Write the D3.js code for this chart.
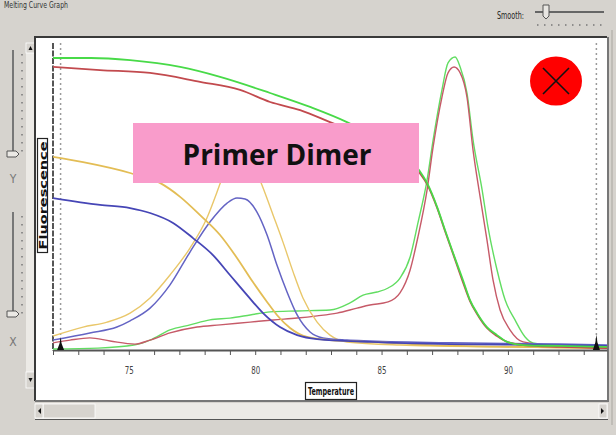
<!DOCTYPE html>
<html>
<head>
<meta charset="utf-8">
<script src="https://cdn.jsdelivr.net/npm/d3@7"></script>
<style>
  html, body { margin: 0; padding: 0; background: #d6d3ce; overflow: hidden; }
  svg { display: block; }
</style>
</head>
<body>
<svg id="chart" width="616" height="435"></svg>
<script>
// temperature (deg C) vs fluorescence (0..100, arbitrary)
const labelTicks = [75, 80, 85, 90];

const greenMelt = [[72.0, 94.2], [73.5, 94.2], [75.05, 93.5], [77.03, 91.3], [78.61, 88.1], [80.59, 82.9],
    [82.17, 78.4], [83.63, 73.5], [85.1, 67.0], [86.48, 58.1], [86.8, 53.9], [87.2, 46.1], [87.51, 38.7],
    [87.83, 31.3], [88.22, 22.6], [88.5, 16.1], [88.78, 11.9], [89.17, 7.4], [89.57, 4.8], [89.97, 2.6],
    [90.6, 1.6], [92.06, 1.3], [93.92, 1.0]];

const redMelt = [[72.0, 91.3], [73.86, 90.3], [75.84, 89.4], [77.82, 86.5], [79.4, 83.9], [80.59, 80.0],
    [81.78, 77.4], [82.96, 73.5], [85.1, 66.1], [86.48, 57.4], [86.8, 53.5], [87.2, 45.8], [87.51, 38.4],
    [87.83, 31.0], [88.22, 21.9], [88.5, 15.8], [88.78, 11.6], [89.17, 7.1], [89.57, 4.5], [89.97, 2.6],
    [90.6, 1.6], [92.06, 1.0], [93.92, 0.6]];

const yellowMelt = [[72.0, 62.3], [73.19, 60.6], [75.05, 57.1], [76.23, 53.9], [77.03, 49.4], [77.82, 43.5],
    [78.61, 37.1], [79.28, 29.7], [79.91, 21.9], [80.47, 15.5], [80.86, 11.3], [81.38, 7.1], [82.05, 4.2],
    [82.96, 3.2], [84.54, 2.6], [86.92, 1.6], [90.48, 1.0], [93.92, 0.6]];

const blueMelt = [[72.0, 49.0], [73.86, 46.8], [75.05, 45.8], [75.84, 44.2], [76.75, 41.0], [77.54, 36.1],
    [78.33, 30.6], [79.0, 24.2], [79.68, 17.7], [80.31, 11.9], [80.98, 7.4], [81.66, 4.8], [82.45, 3.5],
    [84.54, 2.6], [87.71, 1.9], [92.06, 1.6], [93.92, 1.3]];

const yellowPeak = [[72.0, 4.5], [73.19, 7.4], [74.14, 9.0], [75.05, 11.9], [75.84, 16.8], [76.63, 24.2],
    [77.42, 32.9], [78.09, 42.6], [78.49, 51.0], [78.69, 55.5], [78.93, 61.3], [79.16, 65.8], [79.4, 67.4],
    [79.64, 65.8], [79.88, 61.3], [80.11, 56.5], [80.31, 52.3], [80.71, 43.5], [81.1, 34.8], [81.5, 25.2],
    [81.89, 16.8], [82.45, 9.0], [82.96, 4.8], [83.63, 2.6], [85.73, 1.6], [89.69, 1.0], [93.92, 0.6]];

const bluePeak = [[72.0, 3.2], [73.46, 5.5], [74.53, 7.4], [75.05, 9.4], [75.84, 13.5], [76.63, 21.0],
    [77.42, 31.6], [78.21, 41.3], [78.89, 47.4], [79.28, 49.0], [79.6, 48.7], [80.07, 44.5], [80.47, 37.1],
    [80.86, 27.4], [81.26, 18.7], [81.66, 11.3], [82.17, 5.8], [82.68, 3.9], [83.63, 3.2], [84.54, 2.9],
    [87.71, 2.3], [92.06, 1.9], [93.92, 1.6]];

const greenPeak = [[72.0, 0.3], [73.78, 0.6], [75.2, 1.6], [75.84, 3.2], [76.63, 6.5], [77.42, 8.1],
    [78.21, 9.7], [79.0, 10.3], [79.8, 11.3], [80.59, 12.3], [81.66, 12.6], [82.96, 12.9], [83.75, 15.2],
    [84.27, 17.7], [84.82, 18.7], [85.26, 20.0], [85.73, 23.2], [86.13, 30.0], [86.44, 41.0], [86.8, 54.8],
    [87.04, 67.7], [87.39, 83.9], [87.63, 92.6], [87.91, 94.5], [88.11, 91.3], [88.38, 82.9], [88.62, 67.7],
    [88.98, 51.6], [89.21, 39.7], [89.57, 25.8], [89.89, 16.1], [90.28, 9.7], [90.68, 4.2], [90.99, 2.3],
    [92.06, 1.3], [93.92, 1.0]];

const redPeak = [[72.0, 2.3], [72.67, 3.2], [73.46, 3.9], [74.26, 2.9], [75.24, 1.9], [75.84, 3.2],
    [76.63, 5.5], [77.7, 7.4], [78.61, 8.1], [79.8, 9.0], [80.71, 9.7], [81.66, 10.3], [82.45, 11.0],
    [83.24, 11.9], [84.03, 13.5], [84.54, 14.5], [85.26, 15.5], [85.73, 18.4], [86.13, 25.8], [86.44, 36.5],
    [86.8, 51.6], [87.04, 65.5], [87.39, 81.6], [87.63, 89.4], [87.87, 91.3], [88.11, 89.4], [88.38, 81.6],
    [88.62, 64.5], [88.9, 49.4], [89.17, 35.5], [89.41, 22.6], [89.69, 12.9], [90.08, 6.5], [90.6, 2.6],
    [92.06, 1.3], [93.92, 0.6]];

const SERIES = [
    {data: greenPeak,  color: "#62dd62", width: 1.4},
    {data: redPeak,    color: "#c65a68", width: 1.4},
    {data: yellowPeak, color: "#e9c76a", width: 1.4},
    {data: bluePeak,   color: "#6464c4", width: 1.5},
    {data: yellowMelt, color: "#e3bd55", width: 1.8},
    {data: blueMelt,   color: "#4646b6", width: 1.8},
    {data: redMelt,    color: "#c24a4e", width: 1.8},
    {data: greenMelt,  color: "#48da48", width: 1.8},
]

const NARROW = "'Liberation Sans Narrow', 'DejaVu Sans Condensed', Arial, sans-serif";

const area = {
    left: 35, top: 37, right: 607, bottom: 401,
    axisX0: 53, axisX1: 607, axisY: 350, axisTop: 43
}

function drawFrame(svg) {
    svg.append("rect").attr("width", 616).attr("height", 435).attr("fill", "#d6d3ce");

    // group box title
    svg.append("text").attr("x", 4).attr("y", 8)
        .style("font-family", NARROW).style("font-size", "8px").attr("fill", "#333")
        .attr("textLength", 64).attr("lengthAdjust", "spacingAndGlyphs")
        .text("Melting Curve Graph");

    // smooth slider
    svg.append("text").attr("x", 497).attr("y", 19)
        .style("font-family", NARROW).style("font-size", "10px").attr("fill", "#222")
        .attr("textLength", 27).attr("lengthAdjust", "spacingAndGlyphs")
        .text("Smooth:");
    svg.append("line").attr("x1", 535).attr("x2", 604).attr("y1", 12).attr("y2", 12)
        .attr("stroke", "#666").attr("stroke-width", 2);
    svg.append("path").attr("d", "M543,5 L549,5 L549,16 L546,19 L543,16 Z")
        .attr("fill", "#e8e6e2").attr("stroke", "#555").attr("stroke-width", 1);
    svg.append("line").attr("x1", 537).attr("x2", 604).attr("y1", 25).attr("y2", 25)
        .attr("stroke", "#777").attr("stroke-width", 1.5).attr("stroke-dasharray", "1.5,5.5");

    // left sliders
    [[50, 155, "Y", 183], [212, 315, "X", 346]].forEach(s => {
        svg.append("line").attr("x1", 13).attr("x2", 13).attr("y1", s[0]).attr("y2", s[1])
            .attr("stroke", "#777").attr("stroke-width", 2);
        svg.append("line").attr("x1", 22).attr("x2", 22).attr("y1", s[0] + 4).attr("y2", s[1])
            .attr("stroke", "#777").attr("stroke-width", 1.5).attr("stroke-dasharray", "1.5,6.5");
        svg.append("path").attr("d", `M7,${s[1] - 4} L16,${s[1] - 4} L19,${s[1] - 1} L16,${s[1] + 2} L7,${s[1] + 2} Z`)
            .attr("fill", "#ebe9e5").attr("stroke", "#555").attr("stroke-width", 1);
        svg.append("text").attr("x", 13).attr("y", s[3]).attr("text-anchor", "middle")
            .style("font-family", NARROW).style("font-size", "12px").attr("fill", "#777")
            .text(s[2]);
    });

    // left vertical scrollbar
    svg.append("rect").attr("x", 26).attr("y", 43).attr("width", 9).attr("height", 345)
        .attr("fill", "#eceae6");
    svg.append("rect").attr("x", 26).attr("y", 43).attr("width", 9).attr("height", 10)
        .attr("fill", "#d6d3ce").attr("stroke", "#fff").attr("stroke-width", 0.8);
    svg.append("path").attr("d", "M28.5,50 L32.5,50 L30.5,46 Z").attr("fill", "#111");
    svg.append("rect").attr("x", 26).attr("y", 372).attr("width", 9).attr("height", 16)
        .attr("fill", "#d6d3ce").attr("stroke", "#fff").attr("stroke-width", 0.8);
    svg.append("path").attr("d", "M28.5,378 L32.5,378 L30.5,382 Z").attr("fill", "#111");

    // white plot area
    svg.append("rect").attr("x", area.left).attr("y", area.top)
        .attr("width", area.right - area.left).attr("height", area.bottom - area.top)
        .attr("fill", "#fff");
    svg.append("path")
        .attr("d", `M${area.left},${area.bottom} L${area.left},${area.top} L${area.right},${area.top}`)
        .attr("fill", "none").attr("stroke", "#3a3a3a").attr("stroke-width", 2);
    svg.append("path")
        .attr("d", `M${area.right + 1},${area.top} L${area.right + 1},${area.bottom} L${area.left},${area.bottom}`)
        .attr("fill", "none").attr("stroke", "#777").attr("stroke-width", 2);
    svg.append("line").attr("x1", area.right + 5).attr("x2", area.right + 5)
        .attr("y1", 30).attr("y2", 425).attr("stroke", "#a9a6a0").attr("stroke-width", 1);

    // bottom horizontal scrollbar
    svg.append("rect").attr("x", 35).attr("y", 403).attr("width", 573).attr("height", 16)
        .attr("fill", "#eceae6");
    svg.append("rect").attr("x", 43).attr("y", 404).attr("width", 52).attr("height", 14)
        .attr("fill", "#d6d3ce").attr("stroke", "#fff").attr("stroke-width", 0.8);
    svg.append("rect").attr("x", 35).attr("y", 404).attr("width", 8).attr("height", 14)
        .attr("fill", "#d6d3ce").attr("stroke", "#fff").attr("stroke-width", 0.8);
    svg.append("path").attr("d", "M41,408 L41,414 L38,411 Z").attr("fill", "#111");
    svg.append("rect").attr("x", 599).attr("y", 404).attr("width", 8).attr("height", 14)
        .attr("fill", "#d6d3ce").attr("stroke", "#fff").attr("stroke-width", 0.8);
    svg.append("path").attr("d", "M601,408 L601,414 L604,411 Z").attr("fill", "#111");
    svg.append("line").attr("x1", 35).attr("x2", 608).attr("y1", 419.5).attr("y2", 419.5)
        .attr("stroke", "#555").attr("stroke-width", 1);
}

function drawAxes(svg, scX, scY) {
    let axisX = d3.axisBottom(scX)
        .tickValues(d3.range(72, 94))
        .tickFormat(d => labelTicks.includes(d) ? d : "")
        .tickSize(5)
        .tickSizeOuter(0)
        .tickPadding(12);

    let g = svg.append("g")
        .attr("transform", `translate(0, ${area.axisY})`)
        .call(axisX);
    g.select(".domain").attr("stroke", "#555").attr("stroke-width", 2);
    g.selectAll(".tick line").attr("stroke", "#555").attr("stroke-width", 1);
    g.selectAll(".tick text")
        .style("font-family", NARROW).style("font-size", "10px").attr("fill", "#444")
        .attr("textLength", 9).attr("lengthAdjust", "spacingAndGlyphs");

    // y axis: plain dashed rule, no labels
    svg.append("line")
        .attr("x1", area.axisX0).attr("x2", area.axisX0)
        .attr("y1", area.axisTop).attr("y2", area.axisY + 1)
        .attr("stroke", "#555").attr("stroke-width", 2).attr("stroke-dasharray", "6,1.5");

    // temperature marker lines
    [72.3, 93.5].forEach(t => {
        svg.append("line")
            .attr("x1", scX(t)).attr("x2", scX(t))
            .attr("y1", area.axisTop).attr("y2", area.axisY)
            .attr("stroke", "#9a9a9a").attr("stroke-width", 1.5).attr("stroke-dasharray", "2,3");
    });

    // axis titles
    svg.append("rect").attr("x", 305.5).attr("y", 382.5).attr("width", 51).attr("height", 17)
        .attr("fill", "#fff").attr("stroke", "#222").attr("stroke-width", 1.2);
    svg.append("text").attr("x", 331).attr("y", 395).attr("text-anchor", "middle")
        .style("font-family", NARROW).style("font-size", "10px").style("font-weight", "bold")
        .attr("textLength", 46).attr("lengthAdjust", "spacingAndGlyphs")
        .attr("fill", "#111").text("Temperature");

    svg.append("rect").attr("x", 37.5).attr("y", 138.5).attr("width", 10).attr("height", 114)
        .attr("fill", "#fff").attr("stroke", "#222").attr("stroke-width", 1.2);
    svg.append("text")
        .attr("transform", "translate(46.5, 195.5) rotate(-90)")
        .attr("text-anchor", "middle")
        .style("font-family", NARROW).style("font-size", "11px").style("font-weight", "bold")
        .attr("textLength", 108).attr("lengthAdjust", "spacingAndGlyphs")
        .attr("fill", "#111").text("Fluorescence");
}

function drawCurves(svg, scX, scY) {
    svg.append("clipPath").attr("id", "plotClip")
        .append("rect").attr("x", area.axisX0).attr("y", area.top)
        .attr("width", area.right - area.axisX0).attr("height", area.axisY - area.top);

    let line = d3.line()
        .x(d => scX(d[0]))
        .y(d => scY(d[1]))
        .curve(d3.curveMonotoneX);

    let g = svg.append("g").attr("clip-path", "url(#plotClip)");
    SERIES.forEach(s => {
        g.append("path")
            .attr("fill", "none")
            .attr("stroke", s.color)
            .attr("stroke-width", s.width)
            .attr("stroke-linejoin", "round")
            .attr("d", line(s.data));
    });

    // black spike markers at the two temperature marks
    [[72.3, 4.2], [93.5, 5.0]].forEach(m => {
        let cx = scX(m[0]);
        svg.append("path")
            .attr("d", `M${cx - 3.5},${scY(0)} L${cx - 1},${scY(m[1] * 0.5)} L${cx},${scY(m[1])} L${cx + 1},${scY(m[1] * 0.5)} L${cx + 3.5},${scY(0)} Z`)
            .attr("fill", "#111");
    });
}

function drawAnnotations(svg) {
    svg.append("rect").attr("x", 133).attr("y", 123).attr("width", 286).attr("height", 60)
        .attr("fill", "#f99ccb");
    svg.append("text").attr("x", 277).attr("y", 165).attr("text-anchor", "middle")
        .style("font-family", "'Open Sans', 'Noto Sans', sans-serif")
        .style("font-size", "28px").style("font-weight", "bold")
        .attr("fill", "#111").text("Primer Dimer");

    svg.append("ellipse").attr("cx", 556).attr("cy", 81).attr("rx", 26).attr("ry", 24.5)
        .attr("fill", "#ff0000");
    svg.append("path").attr("d", "M543,68 L569,94 M569,68 L543,94")
        .attr("stroke", "#111").attr("stroke-width", 1.6);
}

function drawGraph() {
    let svg = d3.select("#chart");
    svg.selectAll("*").remove();

    let scX = d3.scaleLinear().domain([72, 93.92]).range([area.axisX0, area.axisX1]);
    let scY = d3.scaleLinear().domain([0, 100]).range([area.axisY, 40]);

    drawFrame(svg);
    drawAxes(svg, scX, scY);
    drawCurves(svg, scX, scY);
    drawAnnotations(svg);
}

drawGraph();
</script>
</body>
</html>
